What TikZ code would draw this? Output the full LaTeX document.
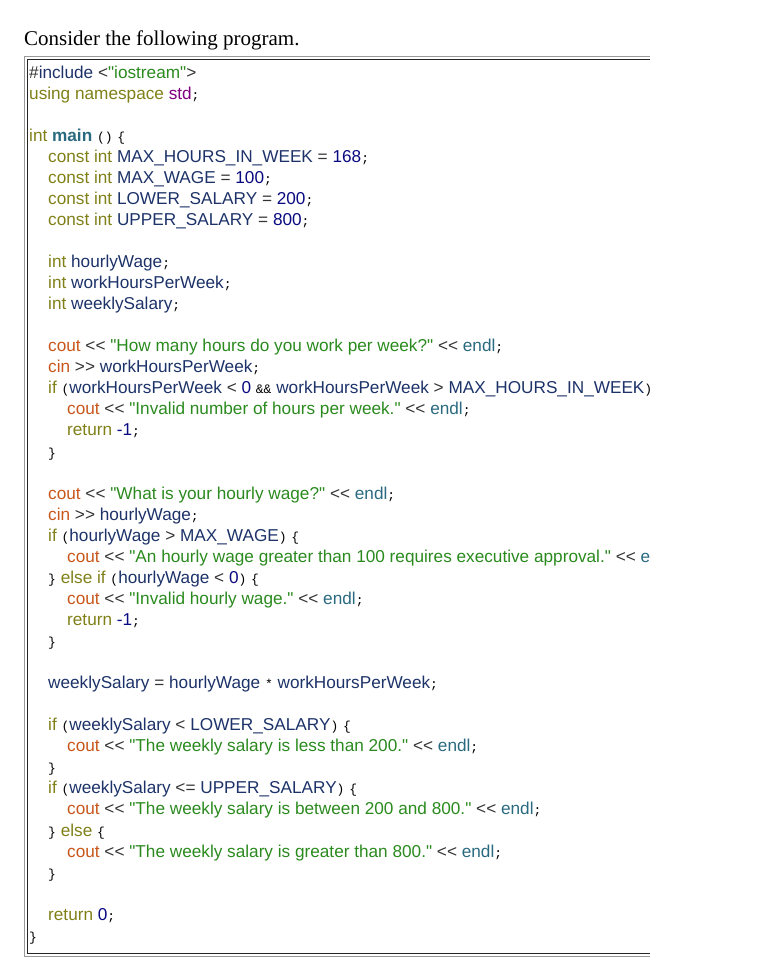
\documentclass[tikz,border=0pt]{standalone}
\usepackage{fontspec}
\setmainfont{Liberation Sans}[Ligatures=TeXOff]
\newfontfamily\serifT{Liberation Serif}
\newfontfamily\monoP{Liberation Mono}[Ligatures=TeXOff]
\definecolor{ckw}{HTML}{808018}
\definecolor{cid}{HTML}{1C3268}
\definecolor{cnum}{HTML}{0A0A80}
\definecolor{cstr}{HTML}{2A8A1E}
\definecolor{cio}{HTML}{C8561A}
\definecolor{cen}{HTML}{2A6A80}
\definecolor{cstd}{HTML}{800080}
\definecolor{cop}{HTML}{333333}
\newcommand{\Kw}[1]{\textcolor{ckw}{#1}}
\newcommand{\Id}[1]{\textcolor{cid}{#1}}
\newcommand{\Nm}[1]{\textcolor{cnum}{#1}}
\newcommand{\St}[1]{\textcolor{cstr}{\symbol{34}#1\symbol{34}}}
\newcommand{\Io}[1]{\textcolor{cio}{#1}}
\newcommand{\En}[1]{\textcolor{cen}{#1}}
\newcommand{\Op}[1]{\textcolor{cop}{#1}}
\newcommand{\Pn}[1]{{\monoP\fontsize{13}{13}\selectfont\textcolor{black}{#1}}}
\begin{document}
\begin{tikzpicture}[x=1pt,y=-1pt,
  code/.style={anchor=base west,inner sep=0pt,font=\fontsize{17.2}{17.2}\selectfont}]
\useasboundingbox (0,0) rectangle (772,964);
\node[anchor=base west,inner sep=0pt,font=\serifT\fontsize{21}{21}\selectfont] (title) at (24,45) {Consider the following program.};
\draw[gray!80,line width=1pt] (650,56.5) -- (24.5,56.5) -- (24.5,956.5) -- (650,956.5);
\draw[black!85,line width=1pt] (650,59.5) -- (27.5,59.5) -- (27.5,953.5) -- (650,953.5);
\begin{scope}
\clip (28,57) rectangle (650,953);
\node[code] (l1) at (29,78.0) {\Op{\#}\Id{include} \Op{<}\St{iostream}\Op{>}};
\node[code] (l2) at (29,99.1) {\Kw{using namespace} \textcolor{cstd}{std}\Pn{;}};
\node[code] (l4) at (29,141.2) {\Kw{int} \textcolor{cen}{\bfseries main} \Pn{()} \Pn{\{}};
\node[code] (l5) at (48,162.2) {\Kw{const int} \Id{MAX\_HOURS\_IN\_WEEK} \Op{=} \Nm{168}\Pn{;}};
\node[code] (l6) at (48,183.3) {\Kw{const int} \Id{MAX\_WAGE} \Op{=} \Nm{100}\Pn{;}};
\node[code] (l7) at (48,204.3) {\Kw{const int} \Id{LOWER\_SALARY} \Op{=} \Nm{200}\Pn{;}};
\node[code] (l8) at (48,225.4) {\Kw{const int} \Id{UPPER\_SALARY} \Op{=} \Nm{800}\Pn{;}};
\node[code] (l10) at (48,267.5) {\Kw{int} \Id{hourlyWage}\Pn{;}};
\node[code] (l11) at (48,288.6) {\Kw{int} \Id{workHoursPerWeek}\Pn{;}};
\node[code] (l12) at (48,309.6) {\Kw{int} \Id{weeklySalary}\Pn{;}};
\node[code] (l14) at (48,351.7) {\Io{cout} \Op{<<} \St{How many hours do you work per week?} \Op{<<} \En{endl}\Pn{;}};
\node[code] (l15) at (48,372.8) {\Io{cin} \Op{>>} \Id{workHoursPerWeek}\Pn{;}};
\node[code] (l16) at (48,393.8) {\Kw{if} \Pn{(}\Id{workHoursPerWeek} \Op{<} \Nm{0} \Pn{\&\&} \Id{workHoursPerWeek} \Op{>} \Id{MAX\_HOURS\_IN\_WEEK}\Pn{)} \Pn{\{}};
\node[code] (l17) at (67,414.9) {\Io{cout} \Op{<<} \St{Invalid number of hours per week.} \Op{<<} \En{endl}\Pn{;}};
\node[code] (l18) at (67,435.9) {\Kw{return} \Nm{-1}\Pn{;}};
\node[code] (l19) at (48,457.0) {\Pn{\}}};
\node[code] (l21) at (48,499.1) {\Io{cout} \Op{<<} \St{What is your hourly wage?} \Op{<<} \En{endl}\Pn{;}};
\node[code] (l22) at (48,520.1) {\Io{cin} \Op{>>} \Id{hourlyWage}\Pn{;}};
\node[code] (l23) at (48,541.2) {\Kw{if} \Pn{(}\Id{hourlyWage} \Op{>} \Id{MAX\_WAGE}\Pn{)} \Pn{\{}};
\node[code] (l24) at (67,562.3) {\Io{cout} \Op{<<} \St{An hourly wage greater than 100 requires executive approval.} \Op{<<} \En{endl}\Pn{;}};
\node[code] (l25) at (48,583.3) {\Pn{\}} \Kw{else if} \Pn{(}\Id{hourlyWage} \Op{<} \Nm{0}\Pn{)} \Pn{\{}};
\node[code] (l26) at (67,604.4) {\Io{cout} \Op{<<} \St{Invalid hourly wage.} \Op{<<} \En{endl}\Pn{;}};
\node[code] (l27) at (67,625.4) {\Kw{return} \Nm{-1}\Pn{;}};
\node[code] (l28) at (48,646.5) {\Pn{\}}};
\node[code] (l30) at (48,688.6) {\Id{weeklySalary} \Op{=} \Id{hourlyWage} \Pn{*} \Id{workHoursPerWeek}\Pn{;}};
\node[code] (l32) at (48,730.7) {\Kw{if} \Pn{(}\Id{weeklySalary} \Op{<} \Id{LOWER\_SALARY}\Pn{)} \Pn{\{}};
\node[code] (l33) at (67,751.8) {\Io{cout} \Op{<<} \St{The weekly salary is less than 200.} \Op{<<} \En{endl}\Pn{;}};
\node[code] (l34) at (48,772.8) {\Pn{\}}};
\node[code] (l35) at (48,793.9) {\Kw{if} \Pn{(}\Id{weeklySalary} \Op{<=} \Id{UPPER\_SALARY}\Pn{)} \Pn{\{}};
\node[code] (l36) at (67,814.9) {\Io{cout} \Op{<<} \St{The weekly salary is between 200 and 800.} \Op{<<} \En{endl}\Pn{;}};
\node[code] (l37) at (48,836.0) {\Pn{\}} \Kw{else} \Pn{\{}};
\node[code] (l38) at (67,857.0) {\Io{cout} \Op{<<} \St{The weekly salary is greater than 800.} \Op{<<} \En{endl}\Pn{;}};
\node[code] (l39) at (48,878.1) {\Pn{\}}};
\node[code] (l41) at (48,920.2) {\Kw{return} \Nm{0}\Pn{;}};
\node[code] (l42) at (29,941.3) {\Pn{\}}};
\end{scope}
\end{tikzpicture}
\end{document}
